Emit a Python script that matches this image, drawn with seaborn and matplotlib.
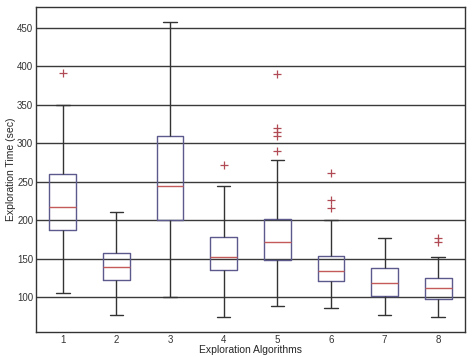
import numpy as np
import pandas as pd
import seaborn as sns
import matplotlib
matplotlib.use("Agg")
import matplotlib.pyplot as plt

algorithms = ['1', '2', '3', '4', '5', '6', '7', '8']
# five-number summaries: lower whisker, Q1, median, Q3, upper whisker
lower_whisker = [106, 77, 101, 74, 89, 86, 77, 75]
q1 = [188, 122, 201, 135, 149, 121, 102, 98]
median = [217, 139, 245, 152, 172, 134, 119, 112]
q3 = [260, 158, 310, 179, 202, 154, 138, 125]
upper_whisker = [350, 211, 458, 245, 278, 201, 177, 152]

outlier_alg = ['1', '4', '5', '5', '5', '5', '5', '6', '6', '6', '8', '8']
outlier_val = [391, 272, 390, 320, 315, 310, 290, 262, 227, 216, 177, 172]

rows = []
for i, a in enumerate(algorithms):
    for v in [lower_whisker[i], q1[i], median[i], q3[i], upper_whisker[i]]:
        rows.append({'alg': a, 'time': v})
df = pd.DataFrame(rows)
out = pd.DataFrame({'alg': outlier_alg, 'time': outlier_val})

sns.set_style('white')
plt.rcParams['font.family'] = ['Liberation Sans', 'DejaVu Sans']

fig = plt.figure(figsize=(4.74, 3.57), dpi=100)
ax = fig.add_axes([0.076, 0.070, 0.905, 0.910])

for y in [100, 150, 200, 250, 300, 350, 400, 450]:
    ax.axhline(y, color='#3a3a3a', lw=1.0, zorder=0)

box_col = '#5c5a8c'
sns.boxplot(data=df, x='alg', y='time', order=algorithms, whis=(0, 100),
            width=0.5, fill=False, linewidth=1.0, showfliers=False, ax=ax,
            boxprops=dict(color=box_col),
            medianprops=dict(color='#c45a5a', linewidth=1.0),
            whiskerprops=dict(color='#333333'),
            capprops=dict(color='#333333'))
sns.scatterplot(data=out, x='alg', y='time', marker='+', color='#b04a55',
                s=30, linewidth=0.9, ax=ax, zorder=3)

ax.set_xlim(-0.5, 7.5)
ax.set_ylim(55, 477)
ax.set_yticks([100, 150, 200, 250, 300, 350, 400, 450])
ax.tick_params(axis='both', labelsize=7, direction='in', length=2, pad=2,
               colors='#333333')
ax.set_xlabel('Exploration Algorithms', fontsize=7.5, labelpad=0)
ax.set_ylabel('Exploration Time (sec)', fontsize=7.5, labelpad=1)
for s in ax.spines.values():
    s.set_color('#333333')
    s.set_linewidth(1.0)

fig.savefig('out.png', dpi=100)
